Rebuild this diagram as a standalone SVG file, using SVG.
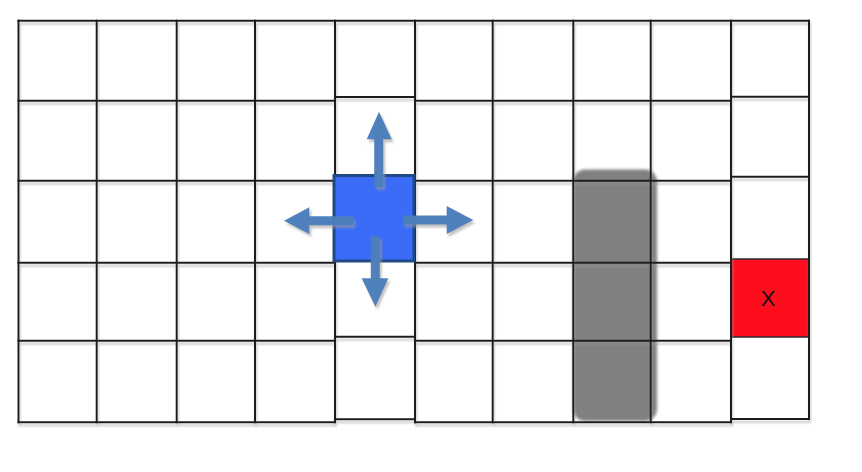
<svg xmlns="http://www.w3.org/2000/svg" width="862" height="472" viewBox="0 0 862 472">
<defs>
<style>
.g line{stroke:#1c1c1c;stroke-width:2;stroke-linecap:square}
.arrow{fill:#4a7ebb}
</style>
<filter id="blur" x="-10%" y="-10%" width="120%" height="120%"><feGaussianBlur stdDeviation="1.6"/></filter>
<filter id="sh" x="-5%" y="-5%" width="110%" height="110%"><feDropShadow dx="1" dy="3" stdDeviation="1" flood-color="#9a9a9a" flood-opacity="0.55"/></filter>
<filter id="ash" x="-20%" y="-20%" width="140%" height="140%"><feDropShadow dx="2" dy="3" stdDeviation="1" flood-color="#9a9a9a" flood-opacity="0.6"/></filter>
</defs>
<rect width="862" height="472" fill="#fff"/>
<g id="obstacle"><rect x="573" y="169.5" width="84" height="251.5" rx="12" fill="#808080" filter="url(#blur)"/></g>
<g id="goal"><rect x="731" y="259" width="78" height="78" fill="#ff0d1e" stroke="#2a2a2a" stroke-width="1.5"/><text x="768" y="306" font-family="Liberation Sans, Arial, sans-serif" font-size="22" text-anchor="middle" fill="#111">X</text></g>
<g id="grid" class="g" filter="url(#sh)">
<line x1="18.5" y1="20.7" x2="809" y2="20.7"/>
<line x1="18.5" y1="100.7" x2="335" y2="100.7"/>
<line x1="415" y1="100.7" x2="731" y2="100.7"/>
<line x1="335" y1="97" x2="415" y2="97"/>
<line x1="731" y1="96.7" x2="809" y2="96.7"/>
<line x1="18.5" y1="180.7" x2="335" y2="180.7"/>
<line x1="415" y1="180.7" x2="731" y2="180.7"/>
<line x1="731" y1="176.7" x2="809" y2="176.7"/>
<line x1="18.5" y1="262.7" x2="335" y2="262.7"/>
<line x1="415" y1="262.7" x2="731" y2="262.7"/>
<line x1="18.5" y1="340.7" x2="335" y2="340.7"/>
<line x1="415" y1="340.7" x2="731" y2="340.7"/>
<line x1="335" y1="336.7" x2="415" y2="336.7"/>
<line x1="18.5" y1="422.3" x2="335" y2="422.3"/>
<line x1="415" y1="422.3" x2="731" y2="422.3"/>
<line x1="335" y1="419.3" x2="415" y2="419.3"/>
<line x1="731" y1="419" x2="809" y2="419"/>
<line x1="18.5" y1="20.7" x2="18.5" y2="422.3"/>
<line x1="96.7" y1="20.7" x2="96.7" y2="422.3"/>
<line x1="176.7" y1="20.7" x2="176.7" y2="422.3"/>
<line x1="255" y1="20.7" x2="255" y2="422.3"/>
<line x1="335" y1="20.7" x2="335" y2="422.3"/>
<line x1="415" y1="20.7" x2="415" y2="422.3"/>
<line x1="492.7" y1="20.7" x2="492.7" y2="422.3"/>
<line x1="573.3" y1="20.7" x2="573.3" y2="422.3"/>
<line x1="650.7" y1="20.7" x2="650.7" y2="422.3"/>
<line x1="731" y1="20.7" x2="731" y2="422.3"/>
<line x1="809" y1="20.7" x2="809" y2="419"/>
</g>
<g id="agent"><rect x="334" y="175.5" width="80" height="85.5" fill="#3a6cf8" stroke="#1f4a86" stroke-width="3"/></g>
<g id="moves" class="arrow" filter="url(#ash)">
<polygon id="up" points="374.2,187 374.2,139.3 366.7,139.3 379,111.7 391.7,139.3 383.2,139.3 383.2,187" opacity="0.97"/>
<polygon id="left" points="353.3,216.2 309.3,216.2 309.3,207.3 284,220.7 309.3,234 309.3,225.2 353.3,225.2" opacity="0.97"/>
<polygon id="right" points="402.7,215.5 446.7,215.5 446.7,206 473.3,220 446.7,234 446.7,224.5 402.7,224.5" opacity="0.97"/>
<polygon id="down" points="370.8,236 370.8,278.3 361.7,278.3 375.3,306.7 388.3,278.3 379.8,278.3 379.8,236" opacity="0.97"/>
</g>
</svg>
